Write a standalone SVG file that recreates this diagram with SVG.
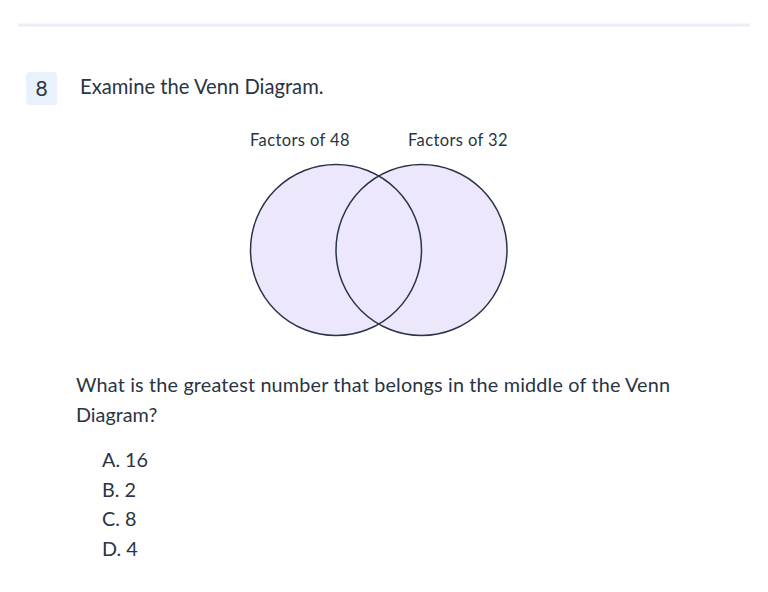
<svg xmlns="http://www.w3.org/2000/svg" width="768" height="592" viewBox="0 0 768 592">
<style>
text{font-family:Lato,"Noto Sans","Liberation Sans",sans-serif;fill:#2a3443}
.q{font-size:19.8px}
.lbl{font-size:16.5px;text-anchor:middle;letter-spacing:0.4px}
.fill{fill:#ede7fb;stroke:none}
.ring{fill:none;stroke:#2b3447;stroke-width:1.5}
</style>
<rect width="768" height="592" fill="#ffffff"/>
<line x1="18" y1="25" x2="750" y2="25" stroke="#efecf8" stroke-width="3"/>
<g id="badge">
<rect x="26" y="72" width="31" height="33" rx="4" fill="#e9f1fb"/>
<text x="41.5" y="96" font-size="21" text-anchor="middle">8</text>
</g>
<text x="80" y="94" font-size="20.2">Examine the Venn Diagram.</text>
<g id="venn">
<circle class="fill" cx="336" cy="250" r="85.5"/>
<circle class="fill" cx="421.5" cy="250" r="85.5"/>
<g id="set48"><circle class="ring" cx="336" cy="250" r="85.5"/></g>
<g id="set32"><circle class="ring" cx="421.5" cy="250" r="85.5"/></g>
<text class="lbl" x="300" y="146">Factors of 48</text>
<text class="lbl" x="458" y="146">Factors of 32</text>
</g>
<text class="q" x="76" y="392" textLength="594" lengthAdjust="spacing">What is the greatest number that belongs in the middle of the Venn</text>
<text class="q" x="76" y="422">Diagram?</text>
<text class="q" x="102" y="467">A. 16</text>
<text class="q" x="102" y="497">B. 2</text>
<text class="q" x="102" y="526">C. 8</text>
<text class="q" x="102" y="556">D. 4</text>
</svg>
